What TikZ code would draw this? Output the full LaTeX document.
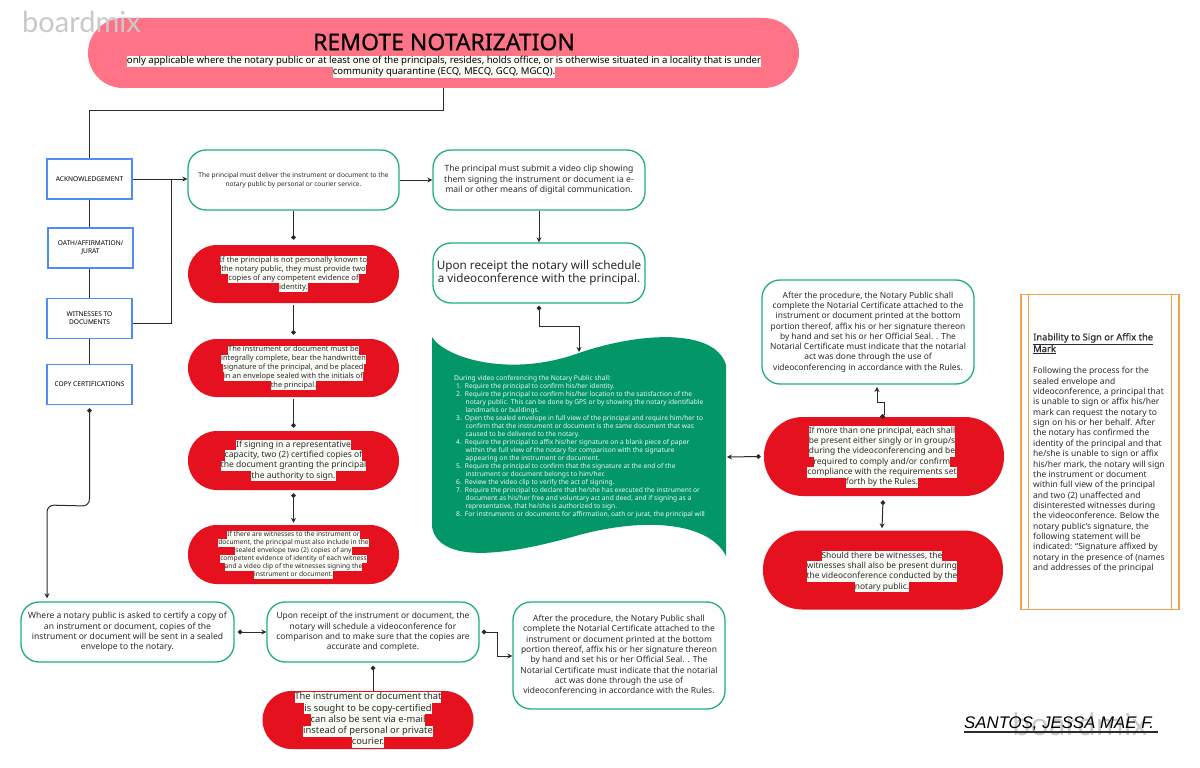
\documentclass[tikz,border=0pt]{standalone}
\usepackage{fontspec}
\setmainfont{Noto Sans}
\newfontfamily\sigfont{Liberation Sans}
\newfontfamily\titlefont[FakeBold=0.6]{Noto Sans}
\newfontfamily\headfont[FakeBold=0.3]{Noto Sans}
\newfontfamily\markfont{Lato}
\usetikzlibrary{arrows.meta,calc}
\definecolor{titlepink}{HTML}{FF7386}
\definecolor{alarmred}{HTML}{E6111E}
\definecolor{tealline}{HTML}{1FAE85}
\definecolor{wavegreen}{HTML}{039768}
\definecolor{bluebox}{HTML}{4D8DF5}
\definecolor{orangeline}{HTML}{F2A24E}
\definecolor{inkdark}{HTML}{2B2B2B}
\definecolor{hlback}{HTML}{FBFBF6}
\definecolor{markgrey}{HTML}{C9C9C9}
\newcommand{\hl}[1]{{\setlength{\fboxsep}{0pt}\colorbox{hlback}{\strut #1}}}
\newcommand{\fsz}[2]{\fontsize{#1}{#2}\selectfont}
\tikzset{
  x=1pt,y=-1pt,
  tealbox/.style={draw=tealline,line width=1.3pt,fill=white,rounded corners=18pt,inner sep=0pt,align=center,text=inkdark},
  redpill/.style={fill=alarmred,rounded corners=29pt,inner sep=0pt,align=center,text=inkdark},
  bluelabel/.style={draw=bluebox,line width=1.2pt,fill=white,inner sep=0pt,align=center,text=black,minimum width=85pt,minimum height=40pt,font=\fsz{6.6}{8}},
  wire/.style={draw=inkdark,line width=1pt},
  toarrow/.style={wire,-{Stealth[length=5pt,width=5pt]}},
  todiamond/.style={wire,-{Diamond[length=5pt,width=5pt]}},
  biarrow/.style={wire,{Diamond[length=5pt,width=5pt]}-{Stealth[length=5pt,width=5pt]}},
  watermark/.style={text=markgrey,inner sep=0pt},
}
\begin{document}
\begin{tikzpicture}
\useasboundingbox (0,0) rectangle (1200,768);
\fill[white] (0,0) rectangle (1200,768);

% header
\node[fill=titlepink,rounded corners=35pt,minimum width=711pt,minimum height=70pt,inner sep=0pt] (title) at (443.5,53) {};
\node[inner sep=0pt,font=\titlefont\fsz{23}{26},text=black] (titletext) at (444,42) {REMOTE NOTARIZATION};
\node[inner sep=0pt,align=center,font=\fsz{9.55}{11}] (subtitle) at (444,67)
 {\hl{only applicable where the notary public or at least one of the principals, resides, holds office, or is otherwise situated in a locality that is under}\\
  \hl{community quarantine (ECQ, MECQ, GCQ, MGCQ).}};

% category boxes
\node[bluelabel] (ack) at (89.5,179) {ACKNOWLEDGEMENT};
\node[bluelabel] (oath) at (90.5,248) {OATH/AFFIRMATION/\\JURAT};
\node[bluelabel] (wit) at (89.5,318.5) {WITNESSES TO\\DOCUMENTS};
\node[bluelabel] (copy) at (89.5,384.5) {COPY CERTIFICATIONS};

% left column
\node[tealbox,minimum width=211pt,minimum height=60pt,font=\fsz{6.6}{9}] (deliver) at (293.5,180)
 {The principal must deliver the instrument or document to the\\notary public by personal or courier service.};
\node[redpill,minimum width=211pt,minimum height=58pt,font=\fsz{7.6}{8.9}] (known) at (293.5,274)
 {\hl{If the principal is not personally known to}\\\hl{the notary public, they must provide two}\\\hl{copies of any competent evidence of}\\\hl{identity.}};
\node[redpill,minimum width=211pt,minimum height=58pt,font=\fsz{7.4}{8.9}] (integral) at (293.5,368)
 {\hl{The instrument or document must be}\\\hl{integrally complete, bear the handwritten}\\\hl{signature of the principal, and be placed}\\\hl{in an envelope sealed with the initials of}\\\hl{the principal.}};
\node[redpill,minimum width=211pt,minimum height=59pt,font=\fsz{8.55}{10.3}] (capacity) at (293.5,460.5)
 {\hl{If signing in a representative}\\\hl{capacity, two (2) certified copies of}\\\hl{the document granting the principal}\\\hl{the authority to sign.}};
\node[redpill,minimum width=211pt,minimum height=59pt,font=\fsz{6.65}{8}] (witnesses) at (293.5,554.5)
 {\hl{If there are witnesses to the instrument or}\\\hl{document, the principal must also include in the}\\\hl{sealed envelope two (2) copies of any}\\\hl{competent evidence of identity of each witness}\\\hl{and a video clip of the witnesses signing the}\\\hl{instrument or document.}};

% middle column
\node[tealbox,minimum width=212pt,minimum height=60pt,font=\fsz{8.6}{10.3}] (clip) at (539,180)
 {The principal must submit a video clip showing\\them signing the instrument or document ia e-\\mail or other means of digital communication.};
\node[tealbox,minimum width=212pt,minimum height=60pt,font=\fsz{11.7}{13.5}] (receipt) at (539,273)
 {Upon receipt the notary will schedule\\a videoconference with the principal.};

% wave
\path[fill=wavegreen] (432,337) .. controls (445,358) and (510,378) .. (579,353)
  .. controls (640,332) and (715,328) .. (726,365) -- (726,556)
  .. controls (710,524) and (650,516) .. (579,535)
  .. controls (520,552) and (440,568) .. (432,527) -- cycle;
\coordinate (waveTop) at (579,352);
\coordinate (waveRight) at (727,457);
\node[inner sep=0pt,align=left,anchor=north west,text=white!92!wavegreen,font=\fsz{6.65}{7.97}] (wavetext) at (454,375.5)
 {During video conferencing the Notary Public shall:\\
  \hspace*{2pt}1.\hspace{3.2pt}Require the principal to confirm his/her identity.\\
  \hspace*{2pt}2.\hspace{3.2pt}Require the principal to confirm his/her location to the satisfaction of the\\
  \hspace*{11.5pt}notary public. This can be done by GPS or by showing the notary identifiable\\
  \hspace*{11.5pt}landmarks or buildings.\\
  \hspace*{2pt}3.\hspace{3.2pt}Open the sealed envelope in full view of the principal and require him/her to\\
  \hspace*{11.5pt}confirm that the instrument or document is the same document that was\\
  \hspace*{11.5pt}caused to be delivered to the notary.\\
  \hspace*{2pt}4.\hspace{3.2pt}Require the principal to affix his/her signature on a blank piece of paper\\
  \hspace*{11.5pt}within the full view of the notary for comparison with the signature\\
  \hspace*{11.5pt}appearing on the instrument or document.\\
  \hspace*{2pt}5.\hspace{3.2pt}Require the principal to confirm that the signature at the end of the\\
  \hspace*{11.5pt}instrument or document belongs to him/her.\\
  \hspace*{2pt}6.\hspace{3.2pt}Review the video clip to verify the act of signing.\\
  \hspace*{2pt}7.\hspace{3.2pt}Require the principal to declare that he/she has executed the instrument or\\
  \hspace*{11.5pt}document as his/her free and voluntary act and deed, and if signing as a\\
  \hspace*{11.5pt}representative, that he/she is authorized to sign.\\
  \hspace*{2pt}8.\hspace{3.2pt}For instruments or documents for affirmation, oath or jurat, the principal will};

% right column
\node[tealbox,minimum width=212pt,minimum height=104pt,font=\fsz{8.4}{10.3}] (afterA) at (868,332)
 {After the procedure, the Notary Public shall\\complete the Notarial Certificate attached to the\\instrument or document printed at the bottom\\portion thereof, affix his or her signature thereon\\by hand and set his or her Official Seal. . The\\Notarial Certificate must indicate that the notarial\\act was done through the use of\\videoconferencing in accordance with the Rules.};
\node[redpill,rounded corners=39pt,minimum width=240pt,minimum height=79pt] (multi) at (884,456.5) {};
\node[inner sep=0pt,align=center,text=inkdark,font=\fsz{8.4}{10.3}] (multitext) at (882,457)
 {\hl{If more than one principal, each shall}\\\hl{be present either singly or in group/s}\\\hl{during the videoconferencing and be}\\\hl{required to comply and/or confirm}\\\hl{compliance with the requirements set}\\\hl{forth by the Rules.}};
\node[redpill,rounded corners=39pt,minimum width=240pt,minimum height=79pt] (present) at (883,570) {};
\node[inner sep=0pt,align=center,text=inkdark,font=\fsz{8.4}{10.3}] (presenttext) at (882,571.5)
 {\hl{Should there be witnesses, the}\\\hl{witnesses shall also be present during}\\\hl{the videoconference conducted by the}\\\hl{notary public.}};

% side panel
\node[draw=orangeline,line width=1.1pt,minimum width=158pt,minimum height=315pt,inner sep=0pt] (panel) at (1100,452) {};
\draw[draw=orangeline,line width=1.1pt] ($(panel.north west)+(8,0)$) -- ($(panel.south west)+(8,0)$);
\draw[draw=orangeline,line width=1.1pt] ($(panel.north east)+(-8,0)$) -- ($(panel.south east)+(-8,0)$);
\node[inner sep=0pt,align=left,anchor=north west,text=inkdark,font=\headfont\fsz{9.4}{11.7}] (paneltitle) at (1033,333)
 {\underline{Inability to Sign or Affix the}\\\underline{Mark}};
\node[inner sep=0pt,align=left,anchor=north west,text=inkdark,font=\fsz{8.5}{10.37}] (panelbody) at (1033,367)
 {Following the process for the\\sealed envelope and\\videoconference, a principal that\\is unable to sign or affix his/her\\mark can request the notary to\\sign on his or her behalf. After\\the notary has confirmed the\\identity of the principal and that\\he/she is unable to sign or affix\\his/her mark, the notary will sign\\the instrument or document\\within full view of the principal\\and two (2) unaffected and\\disinterested witnesses during\\the videoconference. Below the\\notary public’s signature, the\\following statement will be\\indicated: “Signature affixed by\\notary in the presence of (names\\and addresses of the principal};

% bottom row
\node[tealbox,minimum width=213pt,minimum height=60pt,font=\fsz{8.55}{10.3}] (certify) at (127.5,632)
 {Where a notary public is asked to certify a copy of\\an instrument or document, copies of the\\instrument or document will be sent in a sealed\\envelope to the notary.};
\node[tealbox,minimum width=212pt,minimum height=60pt,font=\fsz{8.4}{10.3}] (compare) at (373,632)
 {Upon receipt of the instrument or document, the\\notary will schedule a videoconference for\\comparison and to make sure that the copies are\\accurate and complete.};
\node[tealbox,minimum width=212pt,minimum height=107pt,font=\fsz{8.45}{10.3}] (afterB) at (619,655.5)
 {After the procedure, the Notary Public shall\\complete the Notarial Certificate attached to the\\instrument or document printed at the bottom\\portion thereof, affix his or her signature thereon\\by hand and set his or her Official Seal. . The\\Notarial Certificate must indicate that the notarial\\act was done through the use of\\videoconferencing in accordance with the Rules.};
\node[redpill,minimum width=211pt,minimum height=58pt,font=\fsz{9.35}{11.2}] (email) at (368,720)
 {\hl{The instrument or document that}\\\hl{is sought to be copy-certified}\\\hl{can also be sent via e-mail}\\\hl{instead of personal or private}\\\hl{courier.}};

% connectors
\draw[wire] (title.south) -- ++(0,22) -| (ack.north);
\draw[wire] (ack.south) -- (ack.south |- oath.north);
\draw[wire] (ack.south |- oath.south) -- (wit.north);
\draw[wire] (wit.south) -- (copy.north);
\coordinate (ackjoin) at (171,179);
\draw[toarrow] (ack.east) -- (ack.east -| deliver.west);
\draw[wire] (wit.east |- 0,323) -- (171,323) -- (ackjoin);
\draw[toarrow] (deliver.east) -- (clip.west);
\draw[todiamond] (deliver.south) -- ($(known.north)+(0,-5)$);
\draw[toarrow] (clip.south) -- (receipt.north);
\draw[wire,{Diamond[length=5pt,width=5pt]}-{Stealth[length=5pt,width=5pt]}] ($(receipt.south)+(0,2)$) -- ++(0,21) -| (waveTop);
\draw[wire,shorten <=2pt,-{Diamond[length=5pt,width=5pt]}] (known.south) -- ($(integral.north)+(0,-4)$);
\draw[wire,shorten <=2pt,-{Diamond[length=5pt,width=5pt]}] (integral.south) -- ($(capacity.north)+(0,-3)$);
\draw[biarrow] ($(capacity.south)+(0,3)$) -- ($(witnesses.north)+(0,-2)$);
\draw[biarrow] ($(multi.west)+(-3,0)$) -- (waveRight);
\draw[biarrow] ($(multi.south)+(-1,4)$) -- ($(present.north)+(-1,-2)$);
\coordinate (multitop) at (884,415);
\draw[wire,-{Stealth[length=5pt,width=5pt]}] (multitop) -- ++(0,-13) -- ++(-7,0) -- (877,387);
\draw[wire,{Diamond[length=5pt,width=5pt]}-{Diamond[length=5pt,width=5pt]}] (880,416.5) -- (885,416.5);
\coordinate (copybend) at (47,505);
\draw[wire,rounded corners=7pt,{Diamond[length=5pt,width=5pt]}-{Stealth[length=5pt,width=5pt]}] ($(copy.south)+(0,3)$) -- ++(0,98) -- (copybend) -- ($(certify.north -| copybend)+(0,-3)$);
\draw[biarrow] ($(certify.east)+(3,0)$) -- (compare.west);
\draw[wire,{Diamond[length=5pt,width=5pt]}-{Stealth[length=5pt,width=5pt]}] ($(compare.east)+(2,0)$) -- ++(16,0) -- ++(0,24) -- (afterB.west |- 0,656);
\draw[wire,-{Diamond[length=5pt,width=5pt]}] (373,691) -- ($(compare.south)+(0,3)$);

% marks and signature
\node[watermark,anchor=base west,font=\markfont\fsz{29}{32}] (markA) at (22,33) {boardmix};
\node[watermark,anchor=base west,font=\fsz{30}{32}] (markB) at (1012,735) {boardmix};
\node[inner sep=0pt,anchor=base west,font=\sigfont\itshape\fsz{16.8}{18}] (signature) at (964,728) {SANTOS, JESSA MAE F.};
\draw[draw=inkdark,line width=1.4pt] ($(signature.base west)+(0,4)$) -- ($(signature.base east)+(4,4)$);
\end{tikzpicture}
\end{document}
